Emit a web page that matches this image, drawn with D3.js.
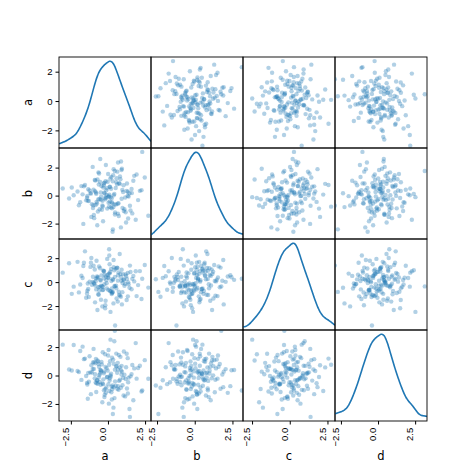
<!DOCTYPE html>
<html><head><meta charset="utf-8">
<script src="https://cdn.jsdelivr.net/npm/d3@7"></script>
<style>body{margin:0;background:#fff}svg{font-family:"DejaVu Sans",sans-serif}</style>
</head><body><div id="chart"></div>
<script>
// columns shown in the matrix
const names = ['a','b','c','d'];
// sample values read as a cloud from the picture (approximate normal blobs)
const aVals=[0.12,-0.85,1.34,0.47,-1.62,0.03,0.91,-0.38,2.15,-0.72,0.56,-1.18,0.29,1.77,-0.05,-2.31,0.68,-0.47,1.05,-0.93,0.21,-1.41,0.84,0.37,-0.26,1.52,-0.64,0.09,-1.87,0.75,1.22,-0.11,-0.58,2.48,0.44,-1.03,0.17,-0.31,1.64,-0.79,0.62,-1.29,0.01,0.98,-2.05,0.33,-0.44,1.39,-0.16,0.71,-0.97,2.72,-0.52,0.25,-1.55,1.11,-0.22,0.58,-0.83,1.87,-0.07,0.39,-1.36,0.94,-0.68,0.14,-2.62,1.28,-0.35,0.81,0.06,-1.12,1.59,-0.49,0.27,-0.89,2.03,-0.14,0.66,-1.71,0.48,-0.28,1.16,-0.6,0.19,-1.24,0.87,-0.02,-0.77,1.45,0.35,-1.96,0.52,-0.41,1.02,-0.19,2.31,-0.95,0.11,-0.66,1.71,-1.08,0.43,-0.33,0.79,-1.47,0.23,1.33,-0.56,-2.44,0.63,0.04,-0.87,1.19,-0.24,0.92,-1.33,0.31,-0.71,1.48,-0.09,-1.79,0.73,0.38,-0.46,2.26,-1.01,0.16,-0.37,1.07,-0.62,-1.15,0.55,0.88,-0.18,-3.05,1.36,-0.53,0.26,-0.81,1.93,0.08,-1.39,0.67,-0.27,1.26,-0.74,0.46,-1.66,0.97,-0.12,0.32,-0.99,1.61,-0.43,2.58];
const bVals=[-0.42,1.08,0.27,-1.35,0.66,-0.09,1.83,-0.71,0.34,-2.12,0.95,0.18,-0.56,1.41,-0.93,0.02,2.36,-0.29,0.74,-1.61,0.49,-0.15,1.17,-0.82,0.21,-1.06,1.66,0.07,-0.47,0.89,-1.92,0.38,-0.24,1.29,-0.63,2.05,-0.11,0.57,-1.27,0.13,0.81,-0.39,1.54,-0.88,0.29,-2.41,0.69,-0.06,1.03,-0.54,0.42,-1.44,2.61,-0.19,0.76,-0.97,0.15,1.24,-0.67,-1.73,0.52,0.03,-0.36,1.92,-1.14,0.61,-0.21,0.86,-0.78,1.37,-0.04,-1.52,0.47,0.23,-0.91,1.12,-0.32,2.19,-0.58,0.09,-1.21,0.72,-0.14,1.58,-0.85,0.36,-2.27,0.99,-0.45,0.17,1.46,-0.69,0.54,-1.01,0.26,-0.17,3.12,-1.38,0.63,-0.28,1.06,-0.61,0.12,-1.83,0.84,-0.34,1.33,-0.02,-0.98,0.58,1.71,-0.51,0.31,-1.19,0.93,-0.23,0.45,-2.58,1.15,-0.73,0.05,0.68,-1.46,1.89,-0.08,0.39,-0.89,1.22,-0.37,-1.1,0.79,0.14,-0.63,2.44,-0.26,0.51,-1.64,0.97,-0.48,0.22,1.51,-0.79,-0.03,-1.29,0.87,0.33,-0.57,1.76,-2.02,0.41,-0.13,1.02,-0.69,0.18];
const cVals=[0.73,-0.28,-1.19,0.44,1.62,-0.66,0.11,-2.03,0.92,0.35,-0.51,1.27,-0.87,0.06,1.94,-0.38,0.57,-1.47,0.23,-0.14,1.09,-0.95,0.68,-1.78,0.31,0.84,-0.43,2.22,-0.2,-1.08,0.49,0.15,-0.7,1.43,-0.33,0.02,-2.49,0.96,0.27,-0.61,1.18,-1.25,0.38,-0.07,1.69,-0.82,0.55,-0.17,-1.56,0.8,1.36,-0.46,0.19,-0.99,2.57,-0.3,0.62,-1.37,0.08,0.91,-0.54,1.25,-0.12,-1.86,0.43,-0.74,1.57,0.26,-0.39,-1.13,0.71,2.01,-0.6,0.13,-0.91,1.05,-0.25,0.47,-1.63,0.34,-3.62,0.88,-0.15,1.31,-0.77,0.04,-1.22,0.59,1.78,-0.47,0.2,-0.86,1.14,-0.35,0.67,-2.18,0.28,-0.05,1.49,-1.02,0.52,-0.22,0.99,-0.64,2.35,-1.31,0.09,0.76,-0.41,-0.98,1.21,0.37,-1.69,0.63,-0.18,1.03,-0.57,0.24,-2.33,1.38,-0.09,0.53,-0.81,1.84,-0.29,-1.41,0.45,0.86,-0.67,0.17,-1.06,1.62,-0.31,0.4,-1.93,0.79,-0.02,1.16,-0.53,0.29,-1.17,2.74,-0.72,0.12,0.94,-1.5,0.48,-0.36,1.35,-0.84];
const dVals=[-0.19,0.86,-1.27,0.41,1.15,-0.62,0.07,-1.88,0.69,-0.33,1.54,0.22,-0.97,0.5,-0.11,2.14,-0.75,0.36,-1.41,0.94,0.13,-0.52,1.31,-2.26,0.28,-0.06,0.81,-1.09,1.72,-0.38,0.58,-0.84,0.03,1.08,-1.59,0.45,2.52,-0.27,0.74,-1.16,0.19,-0.44,1.41,-0.69,0.32,-2.71,0.96,-0.15,0.61,-1.01,1.87,-0.23,0.39,-0.78,1.19,0.05,-1.35,0.66,-0.49,2.28,-0.12,0.83,-1.63,0.27,-0.58,1.01,0.42,-0.91,1.63,-0.3,-1.98,0.72,0.1,-0.65,1.26,-0.2,0.53,-1.22,0.89,2.03,-0.41,0.16,-1.47,0.62,-0.08,1.35,-0.86,0.34,-0.55,-2.36,1.12,0.24,-0.72,0.78,-0.17,1.49,-1.05,0.46,-0.36,0.98,-1.74,0.21,2.41,-0.61,0.57,-0.04,-1.18,1.22,-0.45,0.35,-0.93,1.79,0.09,-0.25,-1.52,0.68,0.18,-0.7,1.06,-2.91,0.51,-0.31,1.44,-0.82,0.29,-1.12,0.91,0.01,-0.56,1.69,-0.14,-1.31,0.64,0.37,-0.95,2.17,-0.47,0.14,-1.69,1.17,-0.22,0.76,-0.63,0.43,-1.04,1.53,-0.34,3.15];
const cols=[aVals,bVals,cVals,dVals];
// axis ranges as shown on the picture
const xDomains=[[-3.3,2.9],[-2.9,3.2],[-3.1,3.0],[-2.9,3.3]];
const yDomains=[[-3.2,3.0],[-3.1,3.4],[-4.0,3.6],[-3.2,3.2]];
const xTicks=[-2.5,0,2.5];
const yTicks=[-2,0,2];

const W=474,H=474, L=59, T=57, R=427, B=421;
const cw=(R-L)/4, ch=(B-T)/4;
const blue='#1f77b4';
const svg=d3.select('#chart').append('svg').attr('width',W).attr('height',H);

function kde(vals, xs){
  const n=vals.length, sd=d3.deviation(vals), h=0.7*sd*Math.pow(n,-0.2);
  return xs.map(x=>[x, d3.sum(vals,v=>Math.exp(-0.5*((x-v)/h)**2))/(n*h*Math.sqrt(2*Math.PI))]);
}

for(let r=0;r<4;r++) for(let c=0;c<4;c++){
  const g=svg.append('g').attr('transform',`translate(${L+c*cw},${T+r*ch})`);
  const x=d3.scaleLinear().domain(xDomains[c]).range([0,cw]);
  const y=d3.scaleLinear().domain(yDomains[r]).range([ch,0]);
  g.append('clipPath').attr('id',`cp${r}${c}`).append('rect').attr('width',cw).attr('height',ch);
  const body=g.append('g').attr('clip-path',`url(#cp${r}${c})`);
  if(r===c){
    const xs=d3.range(xDomains[c][0],xDomains[c][1]+0.001,0.05);
    const dens=kde(cols[c],xs);
    const mx=d3.max(dens,d=>d[1]);
    const yd=d3.scaleLinear().domain([-0.03*mx,mx*1.05]).range([ch,0]);
    body.append('path').datum(dens).attr('fill','none').attr('stroke',blue).attr('stroke-width',1.6)
      .attr('d',d3.line().x(d=>x(d[0])).y(d=>yd(d[1])).curve(d3.curveBasis));
  } else {
    const n=Math.min(cols[c].length,cols[r].length);
    body.selectAll('circle').data(d3.range(n)).join('circle')
      .attr('cx',i=>x(cols[c][i])).attr('cy',i=>y(cols[r][i])).attr('r',2.2)
      .attr('fill',blue).attr('fill-opacity',0.35);
  }
  g.append('rect').attr('width',cw).attr('height',ch).attr('fill','none').attr('stroke','#000').attr('stroke-width',0.9);
  if(c===0){
    const ay=g.append('g').call(d3.axisLeft(y).tickValues(yTicks).tickSize(3.5).tickPadding(3).tickFormat(d3.format('d')));
    ay.select('.domain').remove();
    ay.selectAll('text').attr('font-size',9.5).attr('fill','#000');
    g.append('text').attr('transform',`translate(-27,${ch/2}) rotate(-90)`).attr('text-anchor','middle')
      .attr('font-size',11.5).text(names[r]);
  }
  if(r===3){
    const ax=g.append('g').attr('transform',`translate(0,${ch})`)
      .call(d3.axisBottom(x).tickValues(xTicks).tickSize(3.5).tickFormat(d=>d===0?'0.0':d3.format('.1f')(d).replace('-','\u2212')));
    ax.select('.domain').remove();
    ax.selectAll('text').attr('font-size',9.5).attr('fill','#000')
      .attr('transform','rotate(-90)').attr('text-anchor','end').attr('dx','-0.5em').attr('dy','-0.25em').attr('y',0).attr('x',-2);
    g.append('text').attr('x',cw/2).attr('y',ch+39).attr('text-anchor','middle').attr('font-size',11.5).text(names[c]);
  }
}
</script></body></html>
